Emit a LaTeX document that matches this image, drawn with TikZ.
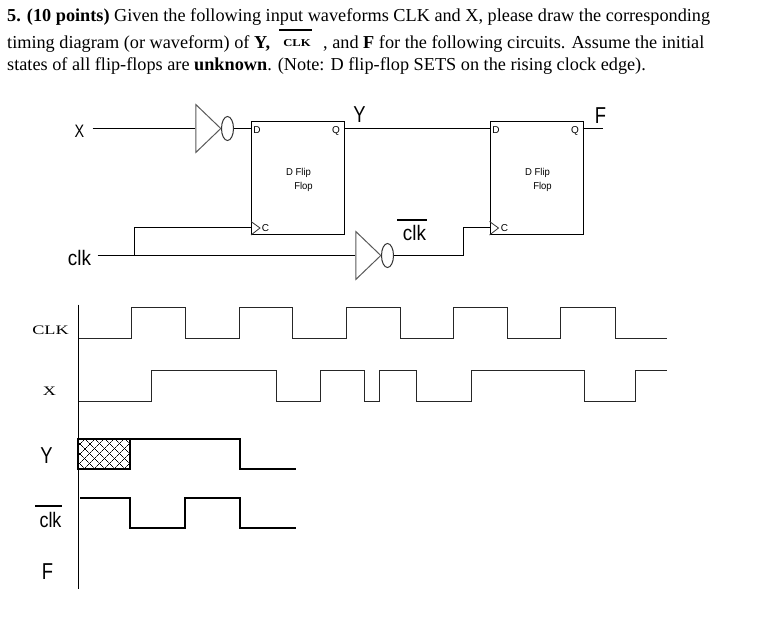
\documentclass[tikz,border=0pt]{standalone}
\usepackage{fontspec}
\setmainfont{Liberation Serif}
\setsansfont{Liberation Sans}
\usetikzlibrary{shapes.geometric}
\usetikzlibrary{patterns.meta}
\newcommand{\titlefont}{\fontsize{18.25}{20}\selectfont}
\tikzset{
  wire/.style={black,line width=1pt},
  wave/.style={black!85,line width=1pt},
  bold wave/.style={black,line width=2pt},
  gate/.style={draw=black!65,line width=1pt,isosceles triangle,isosceles triangle apex angle=88,
     isosceles triangle stretches,minimum width=48pt,minimum height=25pt,inner sep=0pt,anchor=apex},
  bubble/.style={draw=black!80,line width=1pt,ellipse,minimum width=12pt,minimum height=24pt,inner sep=0pt},
  flipflop/.style={draw,line width=1pt,minimum width=93pt,minimum height=113pt,inner sep=0pt},
  pin/.style={font=\sffamily\fontsize{10}{10}\selectfont,inner sep=0pt},
  ffname/.style={font=\sffamily\fontsize{10}{10}\selectfont,inner sep=0pt,xscale=.95,transform shape},
  cirlabel/.style={font=\sffamily\fontsize{23}{23}\selectfont,inner sep=0pt,xscale=.8,transform shape},
  clklabel/.style={font=\sffamily\fontsize{21}{21}\selectfont,inner sep=0pt,xscale=.9,transform shape},
  wavelabel/.style={font=\fontsize{13}{13}\selectfont,inner sep=0pt,xscale=1.4,transform shape},
  line text/.style={font=\titlefont,inner sep=0pt,anchor=base west}
}
\begin{document}
\begin{tikzpicture}[x=1pt,y=-1pt]
\useasboundingbox (0,0) rectangle (773,623);
%% question text
\node[line text] (lineone) at (7,21.5) {\textbf{5. (10 points)} Given the following input waveforms CLK and X, please draw the corresponding};
\node[line text] (linetwo) at (7,48.5) {timing diagram (or waveform) of \textbf{Y,}};
\node[font=\fontsize{10.5}{12}\selectfont\bfseries,inner sep=0pt,anchor=base,xscale=1.2,transform shape] (clktext) at (297,47) {CLK};
\node[line text] (linetwob) at (323,48.5) {, and \textbf{F} for the following circuits. Assume the initial};
\node[line text] (linethree) at (7,70.5) {states of all flip-flops are \textbf{unknown}. (Note: D flip-flop SETS on the rising clock edge).};
\draw[line width=1.5pt] (279,30) -- (312,30);
%% heavy traces sit on whole pixels
\fill[pattern={Lines[angle=45,distance=7.4pt,line width=.6pt]}] (78,439) rectangle (130,469);
\fill[pattern={Lines[angle=-45,distance=7.4pt,line width=.6pt]}] (78,439) rectangle (130,469);
\draw[bold wave] (78,439) rectangle (130,469);
\draw[bold wave] (130,439) -| (240,469) -- (296,469);
\draw[bold wave] (80,498) -| (130,528) -| (185,498) -| (240,528) -- (296,528);
\draw[line width=2pt] (397,220) -- (427,220);
\draw[line width=2pt] (35,506) -- (62,506);
\begin{scope}[shift={(.5,.5)}]
%% circuit
\node[flipflop] (ffa) at (297.5,177.5) {};
\node[flipflop] (ffb) at (536,177.5) {};
\node[gate] (gatex) at (221,128) {};
\node[bubble] (bubblex) at (227,128) {};
\node[gate] (gateclk) at (381,255) {};
\node[bubble] (bubbleclk) at (387,255) {};
\coordinate (inx) at (92,128);
\coordinate (inclk) at (97,255);
\coordinate (branch) at (134,255);
\coordinate (outf) at (602,128);
\coordinate (da) at (251,128);
\coordinate (qa) at (344,128);
\coordinate (db) at (490,128);
\coordinate (qb) at (582,128);
\coordinate (ca) at (251,227);
\coordinate (cb) at (490,227);
\draw[wire] (inx) -- (gatex.lower side);
\draw[wire] (bubblex.east) -- (da);
\draw[wire] (qa) -- (db);
\draw[wire] (qb) -- (outf);
\draw[wire] (inclk) -- (gateclk.lower side);
\draw[wire] (branch) |- (ca);
\draw[wire] (bubbleclk.east) -- (463,255) |- (cb);
\foreach \ff in {ffa,ffb} {
  \draw[black!80,line width=.8pt] (\ff.west |- 0,221) -- ++(9,6.5) -- (\ff.south west);
}
\node[pin] (pinda) at (256.5,130) {D};
\node[pin] (pinqa) at (335.5,130) {Q};
\node[pin] (pinca) at (265,228) {C};
\node[pin] (pindb) at (495.5,130) {D};
\node[pin] (pinqb) at (574.5,130) {Q};
\node[pin] (pincb) at (504,228) {C};
\node[ffname] (namea) at (298,172) {D Flip};
\node[ffname] (nameb) at (303,186) {Flop};
\node[ffname] (namec) at (537,172) {D Flip};
\node[ffname] (named) at (542,186) {Flop};
\node[cirlabel,font=\sffamily\fontsize{18}{18}\selectfont] (labx) at (79,131) {X};
\node[cirlabel] (laby) at (359,114) {Y};
\node[cirlabel] (labf) at (600,115) {F};
\node[clklabel] (labclk) at (79,257) {clk};
\node[clklabel] (labnclk) at (414,232) {clk};
%% waveforms
\draw[wire] (78,304) -- (78,588);
\draw[wave] (78,338) -| (131,307) -| (185,338) -| (239,307) -| (292,338) -| (346,307) -| (400,338)
   -| (453,307) -| (507,338) -| (560,307) -| (615,338) -- (666,338);
\draw[wave] (78,401) -| (151,370) -| (276,401) -| (320,370) -| (364,401) -| (379,370) -| (416,401)
   -| (471,370) -| (584,401) -| (635,370) -- (666,370);
\node[wavelabel] (wclk) at (50,330) {CLK};
\node[wavelabel] (wx) at (49,391) {X};
\node[cirlabel] (wy) at (46,455) {Y};
\node[clklabel,xscale=.95] (wnclk) at (50,519) {clk};
\node[cirlabel] (wf) at (47,571) {F};
\end{scope}
\end{tikzpicture}
\end{document}
